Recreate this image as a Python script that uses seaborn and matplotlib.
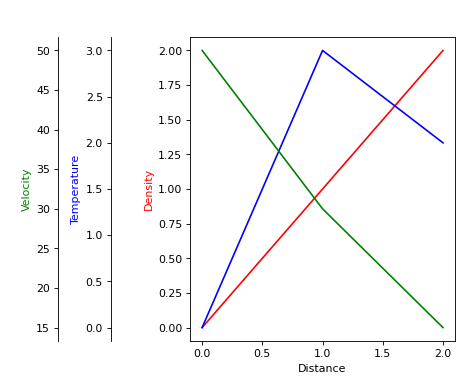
import matplotlib
matplotlib.use("Agg")
import matplotlib.pyplot as plt
import seaborn as sns

distance = [0, 1, 2]
density = [0, 1, 2]
temperature = [0, 3, 2]
velocity = [50, 30, 15]

fig = plt.figure(figsize=(6.0, 4.8), dpi=79)
ax = fig.add_axes([0.401, 0.099, 0.559, 0.804])
twin1 = ax.twinx()
twin2 = ax.twinx()

# move the extra axes to the left side
for tw, off in ((twin1, -0.3), (twin2, -0.5)):
    tw.spines["left"].set_position(("axes", off))
    tw.spines["left"].set_visible(True)
    tw.spines["right"].set_visible(False)
    tw.spines["top"].set_visible(False)
    tw.spines["bottom"].set_visible(False)
    tw.yaxis.set_ticks_position("left")
    tw.yaxis.set_label_position("left")

sns.lineplot(x=distance, y=density, ax=ax, color="r")
sns.lineplot(x=distance, y=temperature, ax=twin1, color="b")
sns.lineplot(x=distance, y=velocity, ax=twin2, color="g")

ax.set_xlabel("Distance")
ax.set_ylabel("Density", color="r")
twin1.set_ylabel("Temperature", color="b")
twin2.set_ylabel("Velocity", color="g")

fig.savefig("out.png", dpi=79)
